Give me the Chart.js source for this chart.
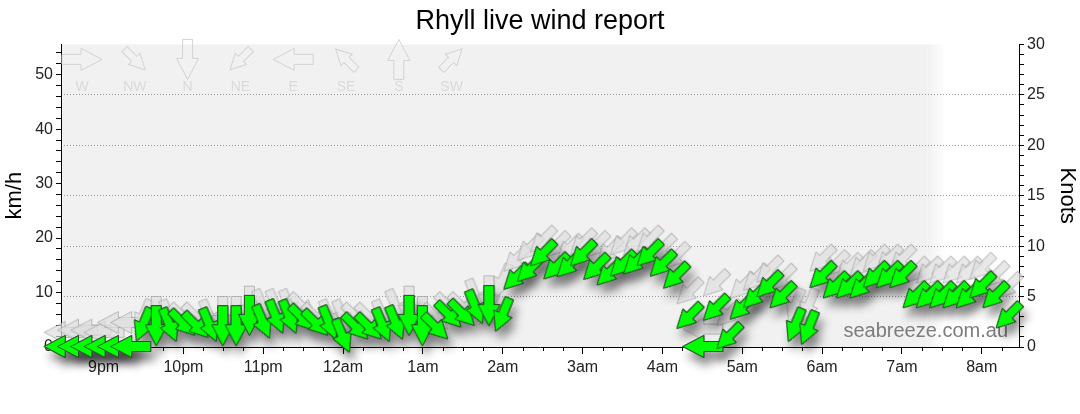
<!DOCTYPE html>
<html>
<head>
<meta charset="utf-8">
<title>Rhyll live wind report</title>
<script src="https://cdn.jsdelivr.net/npm/chart.js@4.4.1/dist/chart.umd.min.js"></script>
<style>
  html, body { margin: 0; padding: 0; background: #fff; }
</style>
</head>
<body>
<canvas id="windChart" width="1080" height="414"></canvas>
<script>
// readings every 10 minutes (local time)
const times = [
  '20:30','20:40','20:50','21:00','21:10','21:20','21:30','21:40','21:50',
  '22:00','22:10','22:20','22:30','22:40','22:50','23:00','23:10','23:20','23:30','23:40','23:50',
  '00:00','00:10','00:20','00:30','00:40','00:50','01:00','01:10','01:20','01:30','01:40','01:50',
  '02:00','02:10','02:20','02:30','02:40','02:50','03:00','03:10','03:20','03:30','03:40','03:50',
  '04:00','04:10','04:20','04:30','04:40','04:50','05:00','05:10','05:20','05:30','05:40','05:50',
  '06:00','06:10','06:20','06:30','06:40','06:50','07:00','07:10','07:20','07:30','07:40','07:50',
  '08:00','08:10','08:20'
];
// average wind, km/h
const speed = [
  0, 0, 0, 0, 0, 0,
  4.0, 3.8, 4.0, 4.4, 4.0, 4.0, 3.8, 3.8,
  5.7, 4.6, 5.5, 5.5, 5.3, 4.4, 4.4, 2.0,
  3.7, 3.7, 4.0, 4.4, 5.7, 3.8, 3.7, 5.9,
  6.2, 7.3, 7.5, 5.8,
  12.7, 14.1, 17.0, 14.6, 15.0, 17.0, 14.5, 13.5, 15.1, 15.5, 17.0, 15.1, 12.9,
  5.5, 0, 7.0, 1.8, 7.2, 9.3, 11.3, 9.3, 3.9, 3.4,
  13.0, 11.1, 11.1, 11.1, 13.0, 13.0, 13.0, 9.3, 9.3, 9.3, 9.3, 9.3, 11.1, 9.3, 5.6
];
// gusts, km/h
const gust = [
  2.6, 3.0, 3.0, 2.6, 4.4, 4.4,
  5.5, 5.5, 5.5, 5.5, 5.5, 5.5, 5.5, 5.5,
  7.4, 7.4, 7.4, 7.4, 7.4, 5.5, 5.5, 5.5,
  5.5, 5.5, 5.5, 7.4, 7.4, 5.5, 5.5, 7.4,
  7.4, 9.3, 9.3, 12.0,
  16.0, 18.0, 19.5, 18.5, 18.0, 19.0, 18.5, 17.5, 19.0, 19.0, 19.5, 18.0, 16.5,
  10.0, 3.2, 11.5, 6.0, 11.0, 12.5, 14.0, 12.5, 7.5, 7.5,
  16.0, 15.0, 14.5, 15.0, 16.0, 16.0, 16.0, 13.8, 13.8, 13.8, 13.8, 13.8, 14.5, 13.0, 11.0
];
// direction the wind comes from, degrees
const dir = [
  90, 90, 90, 90, 90, 90,
  22.5, 0, 337.5, 315, 315, 337.5, 0, 0,
  0, 337.5, 337.5, 337.5, 315, 315, 337.5, 337.5,
  315, 315, 337.5, 337.5, 0, 0, 315, 315,
  315, 337.5, 0, 22.5,
  45, 45, 45, 45, 45, 45, 45, 45, 45, 45, 45, 45, 45,
  45, 90, 45, 45, 45, 45, 45, 45, 22.5, 22.5,
  45, 45, 45, 45, 45, 45, 45, 45, 45, 45, 45, 45, 45, 45, 45
];

const hourTicks = ['21:00','22:00','23:00','00:00','01:00','02:00','03:00','04:00','05:00','06:00','07:00','08:00'];
const hourLabels = ['9pm','10pm','11pm','12am','1am','2am','3am','4am','5am','6am','7am','8am'];
const kmhLabels = [0, 10, 20, 30, 40, 50];
const knotLabels = [0, 5, 10, 15, 20, 25, 30];
const compassNames = ['W', 'NW', 'N', 'NE', 'E', 'SE', 'S', 'SW'];
const compassDirs = [270, 315, 0, 45, 90, 135, 180, 225];
const viewStart = '20:28', viewEnd = '08:28';
const sunrise = '07:26';
const KMH_PER_KNOT = 1.852;

const FONT = "'Liberation Sans', Arial, sans-serif";
Chart.defaults.font.family = FONT;

function toMin(t) {
  const [h, m] = t.split(':').map(Number);
  return (h * 60 + m - 1200 + 1440) % 1440;
}

// arrows are drawn pointing up, centred; diagonal ones shrink a little to fit the same box
function arrowPath(g) {
  g.beginPath();
  g.moveTo(0, -20);
  g.lineTo(11, 1);
  g.lineTo(5, 1);
  g.lineTo(5, 20);
  g.lineTo(-5, 20);
  g.lineTo(-5, 1);
  g.lineTo(-11, 1);
  g.closePath();
}
function fitScale(deg, k) {
  const r = deg * Math.PI / 180;
  return Math.pow(Math.abs(Math.cos(r)) + Math.abs(Math.sin(r)), -k);
}
const arrowCache = {};
function arrowImage(fill, stroke, s) {
  const key = fill + '|' + stroke + '|' + s.toFixed(3);
  if (arrowCache[key]) return arrowCache[key];
  const c = document.createElement('canvas');
  c.width = 46; c.height = 46;
  const g = c.getContext('2d');
  g.translate(23.5, 23.5);
  g.scale(s, s);
  arrowPath(g);
  if (fill) { g.fillStyle = fill; g.fill(); }
  g.lineWidth = 1 / s;
  g.strokeStyle = stroke;
  g.stroke();
  arrowCache[key] = c;
  return c;
}

const rot = dir.map(d => d + 180);
const greenImgs = dir.map(d => arrowImage('#00ff00', '#2a502a', fitScale(d, 0.45)));
const grayImgs = dir.map(d => arrowImage('rgba(222,222,222,0.7)', 'rgba(150,150,150,0.6)', fitScale(d, 0.45)));
const avgPoints = times.map((t, i) => ({x: toMin(t), y: speed[i]}));
const gustPoints = times.map((t, i) => ({x: toMin(t), y: gust[i]}));

const nightBg = {
  id: 'nightBg',
  beforeDraw(chart) {
    const {ctx, chartArea: a, scales} = chart;
    const endX = scales.x.getPixelForValue(toMin(sunrise));
    ctx.save();
    ctx.fillStyle = '#f1f1f1';
    ctx.fillRect(a.left, a.top, endX - 9 - a.left, a.height);
    const g = ctx.createLinearGradient(endX - 9, 0, endX + 9, 0);
    g.addColorStop(0, 'rgba(241,241,241,1)');
    g.addColorStop(1, 'rgba(241,241,241,0)');
    ctx.fillStyle = g;
    ctx.fillRect(endX - 9, a.top, 18, a.height);
    ctx.restore();
  }
};

const decor = {
  id: 'decor',
  beforeDatasetsDraw(chart) {
    const {ctx, chartArea: a, scales} = chart;
    ctx.save();
    // faded compass key
    compassNames.forEach((name, i) => {
      const cx = a.left + 21 + i * 52.8, cy = a.top + 15;
      const s = fitScale(compassDirs[i], 0.9);
      ctx.save();
      ctx.translate(cx, cy);
      ctx.rotate((compassDirs[i] + 180) * Math.PI / 180);
      ctx.scale(s, s);
      arrowPath(ctx);
      ctx.lineWidth = 1 / s;
      ctx.strokeStyle = '#d3d3d3';
      ctx.stroke();
      ctx.restore();
      ctx.fillStyle = '#dadada';
      ctx.font = '14px ' + FONT;
      ctx.textAlign = 'center';
      ctx.textBaseline = 'middle';
      ctx.fillText(name, cx, a.top + 43);
    });
    // watermark
    ctx.fillStyle = '#7c7c7c';
    ctx.font = '20px ' + FONT;
    ctx.textAlign = 'right';
    ctx.textBaseline = 'alphabetic';
    ctx.fillText('seabreeze.com.au', a.right - 11, a.bottom - 10);
    // 15 minute ticks on the time axis
    ctx.strokeStyle = '#000';
    ctx.lineWidth = 1;
    ctx.beginPath();
    for (let m = Math.ceil(toMin(viewStart) / 15) * 15; m <= toMin(viewEnd); m += 15) {
      if (m % 60 === 0) continue;
      const px = Math.round(scales.x.getPixelForValue(m)) + 0.5;
      ctx.moveTo(px, a.bottom);
      ctx.lineTo(px, a.bottom + 4);
    }
    ctx.stroke();
    ctx.restore();
  }
};

// the shadow copy casts a blurred drop shadow; the green set is drawn over it
const arrowShadow = {
  id: 'arrowShadow',
  beforeDatasetDraw(chart, args) {
    if (args.index !== 1) return;
    const ctx = chart.ctx;
    ctx.save();
    ctx.shadowColor = 'rgba(0,0,0,0.45)';
    ctx.shadowBlur = 10;
    ctx.shadowOffsetX = 4;
    ctx.shadowOffsetY = 9;
  },
  afterDatasetDraw(chart, args) {
    if (args.index === 1) chart.ctx.restore();
  }
};

const tickFont = {size: 16, family: FONT};

new Chart(document.getElementById('windChart'), {
  type: 'scatter',
  data: {
    datasets: [
      {
        label: 'Average',
        data: avgPoints,
        order: 0,
        pointStyle: greenImgs,
        pointRotation: rot,
        pointRadius: 20,
        clip: false
      },
      {
        label: 'Shadow',
        data: avgPoints,
        order: 1,
        pointStyle: greenImgs,
        pointRotation: rot,
        pointRadius: 20,
        clip: false
      },
      {
        label: 'Gust',
        data: gustPoints,
        order: 2,
        pointStyle: grayImgs,
        pointRotation: rot,
        pointRadius: 20,
        clip: false
      }
    ]
  },
  options: {
    responsive: false,
    devicePixelRatio: 1,
    animation: false,
    events: [],
    layout: {padding: 0},
    plugins: {
      legend: {display: false},
      tooltip: {enabled: false},
      title: {
        display: true,
        text: 'Rhyll live wind report',
        color: '#000',
        font: {size: 27, weight: 'normal', family: FONT},
        padding: {top: 5, bottom: 7}
      }
    },
    scales: {
      x: {
        type: 'linear',
        min: toMin(viewStart),
        max: toMin(viewEnd),
        afterBuildTicks: s => { s.ticks = hourTicks.map(t => ({value: toMin(t)})); },
        afterFit: s => { s.height = 67; },
        ticks: {
          autoSkip: false,
          maxRotation: 0,
          padding: 4,
          color: '#222',
          font: tickFont,
          callback: (v, i) => hourLabels[i]
        },
        grid: {drawOnChartArea: false, tickLength: 7, tickColor: '#000'},
        border: {color: '#000'}
      },
      y: {
        position: 'left',
        min: 0,
        max: 30 * KMH_PER_KNOT,
        afterBuildTicks: s => {
          const t = [];
          for (let v = 0; v <= kmhLabels[kmhLabels.length - 1] + 4; v += 2) t.push({value: v});
          s.ticks = t;
        },
        afterFit: s => { s.width = 61; },
        ticks: {
          autoSkip: false,
          padding: 3,
          color: '#222',
          font: tickFont,
          callback: v => kmhLabels.includes(v) ? String(v) : ''
        },
        grid: {drawOnChartArea: false, tickLength: 5, tickColor: '#000'},
        border: {color: '#000'},
        title: {
          display: true,
          text: 'km/h',
          color: '#000',
          font: {size: 22, family: FONT},
          padding: {top: 2, bottom: 0}
        }
      },
      y2: {
        position: 'right',
        min: 0,
        max: 30,
        afterBuildTicks: s => {
          const t = [];
          for (let v = 0; v <= 30; v++) t.push({value: v});
          s.ticks = t;
        },
        afterFit: s => { s.width = 61; },
        ticks: {
          autoSkip: false,
          padding: 3,
          color: '#222',
          font: tickFont,
          callback: v => knotLabels.includes(v) ? String(v) : ''
        },
        grid: {
          drawOnChartArea: true,
          tickLength: 5,
          tickColor: '#000',
          color: c => (c.tick && c.tick.value % 5 === 0 && c.tick.value > 0 && c.tick.value < 30) ? '#9a9a9a' : 'rgba(0,0,0,0)'
        },
        border: {color: '#000', dash: [1, 2]},
        title: {
          display: true,
          text: 'Knots',
          color: '#000',
          font: {size: 22, family: FONT},
          padding: {top: 0, bottom: 0}
        }
      }
    }
  },
  plugins: [nightBg, decor, arrowShadow]
});
</script>
</body>
</html>
